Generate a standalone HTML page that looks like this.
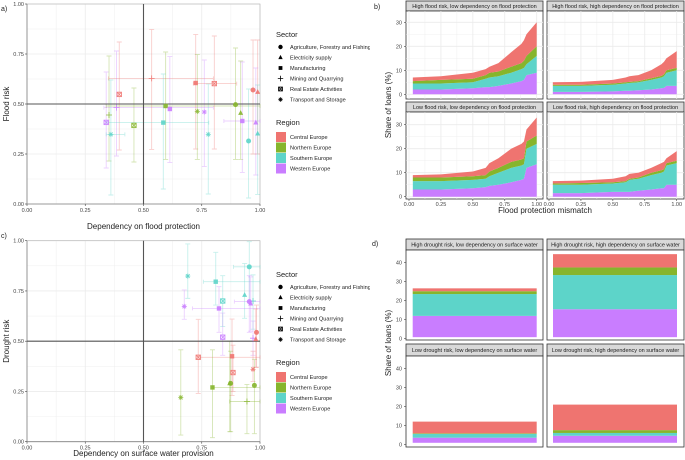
<!DOCTYPE html>
<html><head><meta charset="utf-8"><style>
html,body{margin:0;padding:0;background:#fff;}
svg{display:block;font-family:"Liberation Sans",sans-serif;}
</style></head><body>
<svg id="fig" width="685" height="460" viewBox="0 0 685 460">
<defs><clipPath id="legclip"><rect x="260" y="0" width="110" height="460"/></clipPath></defs>
</svg>
<script>
// ---------- DATA ----------
const regions = ["Central Europe","Northern Europe","Southern Europe","Western Europe"];
const regionColors = ["#EF7470","#86B52C","#5DD4C9","#C97DFF"];
const sectors = ["Agriculture, Forestry and Fishing","Electricity supply","Manufacturing","Mining and Quarrying","Real Estate Activities","Transport and Storage"];
const sectorShapes = ["circle","triangle","square","plus","crossbox","asterisk"];

// panel a: [regionIdx, shapeIdx, x, y, ylo, yhi, xlo, xhi]
const floodPoints = [
 [0,4,0.396,0.548,0.27,0.81,null,null],
 [3,3,0.384,0.482,0.24,0.765,0.33,0.80],
 [1,3,0.352,0.445,0.215,0.74,null,null],
 [3,4,0.34,0.408,0.18,0.66,null,null],
 [2,5,0.36,0.348,0.045,0.62,0.34,0.42],
 [1,4,0.459,0.393,0.21,0.58,null,null],
 [0,3,0.535,0.628,0.273,0.873,0.35,0.80],
 [1,2,0.595,0.49,0.223,0.76,0.34,1.0],
 [2,2,0.585,0.407,0.075,0.65,0.34,0.78],
 [3,2,0.613,0.475,0.207,0.737,null,null],
 [0,2,0.724,0.605,0.275,0.848,null,null],
 [1,5,0.731,0.463,0.223,0.748,null,null],
 [3,5,0.761,0.46,0.187,0.72,null,null],
 [2,5,0.778,0.348,0.05,0.60,null,null],
 [0,4,0.804,0.602,0.275,0.84,0.714,0.90],
 [1,0,0.895,0.497,0.223,0.78,null,null],
 [1,1,0.917,0.455,0.223,0.715,null,null],
 [3,2,0.924,0.415,0.158,0.71,0.845,1.0],
 [2,0,0.951,0.315,0.03,0.575,null,null],
 [0,0,0.97,0.57,0.25,0.82,null,null],
 [0,1,0.99,0.56,0.25,0.82,null,null],
 [3,1,0.982,0.407,0.145,0.68,null,null],
 [2,1,0.99,0.352,0.048,0.595,null,null]
];
// panel c
const droughtPoints = [
 [2,5,0.69,0.824,0.713,0.984,null,null],
 [2,2,0.81,0.796,0.68,0.942,0.757,1.0],
 [2,4,0.84,0.70,0.573,0.826,null,null],
 [2,1,0.934,0.73,0.614,0.887,null,null],
 [2,0,0.954,0.87,0.697,0.995,0.886,1.0],
 [2,3,0.97,0.70,0.56,0.83,null,null],
 [3,5,0.675,0.673,0.609,0.755,null,null],
 [3,2,0.824,0.663,0.544,0.771,0.71,1.0],
 [3,0,0.954,0.697,0.544,0.826,0.89,1.0],
 [3,1,0.96,0.687,0.55,0.82,null,null],
 [3,4,0.84,0.52,0.43,0.64,null,null],
 [3,3,0.97,0.515,0.43,0.6,null,null],
 [0,0,0.985,0.544,0.37,0.68,null,null],
 [0,1,0.982,0.51,0.37,0.66,null,null],
 [0,4,0.735,0.42,0.24,0.609,0.735,1.0],
 [0,2,0.88,0.425,0.23,0.61,null,null],
 [0,4,0.884,0.344,0.25,0.48,null,null],
 [0,5,0.97,0.36,0.3,0.45,null,null],
 [1,5,0.66,0.22,0.033,0.457,null,null],
 [1,2,0.796,0.27,0.02,0.457,0.80,1.0],
 [1,1,0.87,0.29,0.05,0.5,null,null],
 [1,0,0.874,0.29,0.05,0.45,null,null],
 [1,0,0.976,0.28,0.04,0.41,null,null],
 [1,3,0.944,0.20,0.04,0.285,0.87,1.0]
];

// panel b: flood protection mismatch areas (layer thickness per region)
const mismatchX = [0.03,0.25,0.5,0.6,0.63,0.7,0.8,0.88,0.9,0.92,1.0];
const bTitles = ["High flood risk, low dependency on flood protection","High flood risk, high dependency on flood protection","Low flood risk, low dependency on flood protection","Low flood risk, high dependency on flood protection"];
const bWestern = [[2,2,2.5,3,3,3.5,4.5,5.5,6,8,9],[1,1,1.2,1.5,1.5,1.7,2,2.5,2.7,3.5,3.5],[3,3,3.5,4,4.5,5,6,7,7.5,12,13.5],[1.5,1.5,2,2,2,2.5,3,3.5,3.5,5,5]];
const bSouthern = [[2.5,2.5,2.5,3.5,4,4,4.5,5,5,4.5,7],[2.5,2.5,2.8,3,3.2,3.3,4,4.5,4.8,5.5,6.5],[3.5,3.5,3.5,3.5,4,5,6,6,6,8,8.5],[3.5,3.5,3.5,4,5,5,6,6.5,7,8,9]];
const bNorthern = [[1,1.5,1.5,1.5,2,2,2.5,2.5,3,3.5,4],[0.5,0.5,0.5,0.5,0.5,0.5,0.7,0.7,0.8,1,1],[1.5,1.5,1.5,1.5,2,2,2.5,2.5,2.5,3,3.5],[0.5,0.7,0.5,0.5,0.5,0.5,1,1,1,1,1]];
const bCentral = [[1.5,1.5,2.5,2.5,2.5,3.5,6,8,8.5,9,10],[1,1.2,1.5,2,2.3,2.5,3.3,4.8,5.2,5,7],[1,1.3,2,3,3.5,4,5.5,6.5,7,5,7.5],[1,1,1.5,2,2,2,2,3,3,2,4]];
const bYTicks = [0,10,20,30];
const bXTicks = [0,0.25,0.5,0.75,1.0];
const bXTickLabels = ["0.00","0.25","0.50","0.75","1.00"];

// panel d: surface water (layer thickness, western/southern/northern/central)
const dTitles = ["High drought risk, low dependency on surface water","High drought risk, high dependency on surface water","Low drought risk, low dependency on surface water","Low drought risk, high dependency on surface water"];
const dWestern = [11.2,14.7,2.7,3.7];
const dSouthern = [11.5,18,2,1.5];
const dNorthern = [1.5,4,0.3,1.5];
const dCentral = [1.5,7,6.2,13.5];
const dBase = 0.8;
const dYTicks = [0,10,20,30,40];

const scatterTicks = [0,0.25,0.5,0.75,1.0];
const scatterTickLabels = ["0.00","0.25","0.50","0.75","1.00"];

// ---------- HELPERS ----------
const NS="http://www.w3.org/2000/svg";
const svg=document.getElementById('fig');
function mk(tag,attrs,parent){const e=document.createElementNS(NS,tag);for(const k in attrs)e.setAttribute(k,attrs[k]);(parent||svg).appendChild(e);return e;}
function txt(x,y,s,size,anchor,parent,extra){const e=mk('text',Object.assign({x:x,y:y,'font-size':size,'text-anchor':anchor||'start',fill:'#222'},extra||{}),parent);e.textContent=s;return e;}

function drawShape(g,shape,cx,cy,col,r){
  r=r||2.6;
  if(shape==='circle'){mk('circle',{cx:cx,cy:cy,r:r,fill:col},g);}
  else if(shape==='triangle'){mk('polygon',{points:`${cx},${cy-r-0.4} ${cx-r},${cy+r-0.6} ${cx+r},${cy+r-0.6}`,fill:col},g);}
  else if(shape==='square'){mk('rect',{x:cx-r+0.3,y:cy-r+0.3,width:2*r-0.6,height:2*r-0.6,fill:col},g);}
  else if(shape==='plus'){mk('path',{d:`M${cx-r-0.5},${cy}H${cx+r+0.5}M${cx},${cy-r-0.5}V${cy+r+0.5}`,stroke:col,'stroke-width':0.8,fill:'none'},g);}
  else if(shape==='crossbox'){mk('rect',{x:cx-r+0.3,y:cy-r+0.3,width:2*r-0.6,height:2*r-0.6,stroke:col,'stroke-width':0.9,fill:'none'},g);
    mk('path',{d:`M${cx-r+0.3},${cy-r+0.3}L${cx+r-0.3},${cy+r-0.3}M${cx+r-0.3},${cy-r+0.3}L${cx-r+0.3},${cy+r-0.3}`,stroke:col,'stroke-width':0.8},g);}
  else if(shape==='asterisk'){const d=r*0.75;mk('path',{d:`M${cx-r},${cy}H${cx+r}M${cx},${cy-r}V${cy+r}M${cx-d},${cy-d}L${cx+d},${cy+d}M${cx+d},${cy-d}L${cx-d},${cy+d}`,stroke:col,'stroke-width':0.8},g);}
}

function scatterPanel(cfg){
  const g=mk('g',{});
  
  
  const sx=v=>cfg.x0+v*(cfg.x1-cfg.x0), sy=v=>cfg.y0+v*(cfg.y1-cfg.y0);
  for(let i=0;i<=8;i++){const v=i/8;const major=i%2===0;
    mk('line',{x1:sx(v),x2:sx(v),y1:sy(0),y2:sy(1),stroke:'#ebebeb','stroke-width':major?0.8:0.4},g);
    mk('line',{x1:sx(0),x2:sx(1),y1:sy(v),y2:sy(v),stroke:'#ebebeb','stroke-width':major?0.8:0.4},g);}
  mk('rect',{x:sx(0),y:sy(1),width:sx(1)-sx(0),height:sy(0)-sy(1),fill:'none',stroke:'#bbb','stroke-width':0.7},g);
  mk('line',{x1:sx(0),x2:sx(0),y1:sy(0),y2:sy(1),stroke:'#888','stroke-width':0.8},g);
  mk('line',{x1:sx(0),x2:sx(1),y1:sy(0),y2:sy(0),stroke:'#888','stroke-width':0.8},g);
  scatterTicks.forEach((v,i)=>{
    const t=txt(sx(v),sy(0)+8,scatterTickLabels[i],5.5,'middle',g,{fill:'#444'});
    
    
    const t2=txt(sx(0)-3,sy(v)+2,scatterTickLabels[i],5.5,'end',g,{fill:'#444'});
    
    
    mk('line',{x1:sx(v),x2:sx(v),y1:sy(0),y2:sy(0)+2,stroke:'#444','stroke-width':0.6},g);
    mk('line',{x1:sx(0)-2,x2:sx(0),y1:sy(v),y2:sy(v),stroke:'#444','stroke-width':0.6},g);
  });
  cfg.pts.forEach(p=>{
    const col=regionColors[p[0]];
    const eb=mk('g',{opacity:0.35},g);
    
    
    const x=sx(p[2]),y=sy(p[3]);
    mk('path',{d:`M${x},${sy(p[4])}V${sy(p[5])}M${x-2.5},${sy(p[4])}H${x+2.5}M${x-2.5},${sy(p[5])}H${x+2.5}`,stroke:col,'stroke-width':0.9,fill:'none'},eb);
    if(p[6]!==null){mk('path',{d:`M${sx(p[6])},${y}H${sx(p[7])}M${sx(p[6])},${y-2}V${y+2}M${sx(p[7])},${y-2}V${y+2}`,stroke:col,'stroke-width':0.9,fill:'none'},eb);}
  });
  mk('line',{x1:sx(0.5),x2:sx(0.5),y1:sy(0),y2:sy(1),stroke:'#555','stroke-width':1.1},g);
  mk('line',{x1:sx(0),x2:sx(1),y1:sy(0.5),y2:sy(0.5),stroke:'#555','stroke-width':1.1},g);
  cfg.pts.forEach(p=>{
    const pg=mk('g',{opacity:0.9},g);
    
    
    drawShape(pg,sectorShapes[p[1]],sx(p[2]),sy(p[3]),regionColors[p[0]],2.5);
  });
  const xt=txt((sx(0)+sx(1))/2,cfg.xtY,cfg.xTitle,8,'middle',g);
  
  
  const yc=(sy(0)+sy(1))/2;
  const yt=txt(9,yc,cfg.yTitle,8,'middle',g,{transform:`rotate(-90 9 ${yc})`});
  
  
}

function legend(y0){
  const g=mk('g',{'clip-path':'url(#legclip)'});
  
  
  const t=txt(276,y0,'Sector',7.5,'start',g);
  
  
  sectors.forEach((s,i)=>{
    const yy=y0+12+i*10.5;
    const eg=mk('g',{},g);
    
    
    drawShape(eg,sectorShapes[i],280.5,yy-2,'#000',2.2);
    txt(290,yy,s,5.6,'start',eg);
  });
  const t2=txt(276,y0+88,'Region',7.5,'start',g);
  
  
  regions.forEach((r,i)=>{
    const yy=y0+95+i*10.5;
    const eg=mk('g',{},g);
    
    
    mk('rect',{x:276,y:yy,width:10,height:10,fill:regionColors[i]},eg);
    txt(290,yy+7,r,5.6,'start',eg);
  });
}

function facetFrame(g,x0,x1,stripY,py0,py1,title){
  mk('rect',{x:x0,y:stripY,width:x1-x0,height:py0-stripY,fill:'#d9d9d9',stroke:'#333','stroke-width':0.8},g);
  const t=txt((x0+x1)/2,stripY+(py0-stripY)/2+2,title,5.5,'middle',g,{fill:'#1a1a1a'});
  
  
  mk('rect',{x:x0,y:py0,width:x1-x0,height:py1-py0,fill:'#fff',stroke:'#333','stroke-width':0.8},g);
}

[['a)',1,11],['b)',374,9],['c)',1,238],['d)',372,246]].forEach(l=>{
  const t=txt(l[1],l[2],l[0],7,'start');
  
  
});

scatterPanel({name:'panel-a-flood-scatter',x0:27,x1:260,y0:204,y1:4,pts:floodPoints,xTitle:'Dependency on flood protection',yTitle:'Flood risk',xtY:229});
scatterPanel({name:'panel-c-drought-scatter',x0:27,x1:260,y0:441.7,y1:240.7,pts:droughtPoints,xTitle:'Dependency on surface water provision',yTitle:'Drought risk',xtY:456});
legend(37);
legend(277);

// ---------- PANEL B ----------
(function(){
  const g=mk('g',{});
  
  
  const facets=[{x0:406,x1:543,strip:1,py0:11,py1:99,zero:94.3,ox:409},{x0:547,x1:684,strip:1,py0:11,py1:99,zero:94.3,ox:549},
                {x0:406,x1:543,strip:102,py0:112,py1:199,zero:196.7,ox:409},{x0:547,x1:684,strip:102,py0:112,py1:199,zero:196.7,ox:549}];
  const layers=[bWestern,bSouthern,bNorthern,bCentral];
  const layerCols=[regionColors[3],regionColors[2],regionColors[1],regionColors[0]];
  facets.forEach((f,fi)=>{
    const fg=mk('g',{},g);
    
    
    facetFrame(fg,f.x0,f.x1,f.strip,f.py0,f.py1,bTitles[fi]);
    const sx=v=>f.ox+v*127.7, sy=v=>f.zero-v*2.4;
    for(let v=0;v<=1.0001;v+=0.125){mk('line',{x1:sx(v),x2:sx(v),y1:f.py0,y2:f.py1,stroke:'#ebebeb','stroke-width':Math.round(v*8)%2?0.4:0.8},fg);}
    for(let v=0;v<=35;v+=5){if(sy(v)>f.py0)mk('line',{x1:f.x0,x2:f.x1,y1:sy(v),y2:sy(v),stroke:'#ebebeb','stroke-width':v%10?0.4:0.8},fg);}
    let base=mismatchX.map(()=>0);
    layers.forEach((L,li)=>{
      const vals=L[fi];
      const top=base.map((b,i)=>b+vals[i]);
      let d='M'+mismatchX.map((x,i)=>sx(x)+','+sy(top[i])).join('L');
      for(let i=mismatchX.length-1;i>=0;i--)d+='L'+sx(mismatchX[i])+','+sy(base[i]);
      const a=mk('path',{d:d+'Z',fill:layerCols[li]},fg);
      
      
      base=top;
    });
    if(fi%2===0){bYTicks.forEach(v=>{txt(f.x0-4,sy(v)+2,String(v),5.5,'end',fg,{fill:'#444'});mk('line',{x1:f.x0-2,x2:f.x0,y1:sy(v),y2:sy(v),stroke:'#444','stroke-width':0.6},fg);});}
    if(fi>=2){bXTicks.forEach((v,i)=>{txt(sx(v),f.py1+7,bXTickLabels[i],5.5,'middle',fg,{fill:'#444'});mk('line',{x1:sx(v),x2:sx(v),y1:f.py1,y2:f.py1+2,stroke:'#444','stroke-width':0.6},fg);});}
  });
  const xt=txt(545,213,'Flood protection mismatch',8,'middle',g);
  
  
  const yt=txt(391,105,'Share of loans (%)',8,'middle',g,{transform:'rotate(-90 391 105)'});
  
  
})();

// ---------- PANEL D ----------
(function(){
  const g=mk('g',{});
  
  
  const facets=[{x0:406,x1:543,strip:239,py0:250,py1:340,zero:338.7,s:1.9,bx0:412.7,bx1:536.7},{x0:547,x1:684,strip:239,py0:250,py1:340,zero:338.7,s:1.9,bx0:553,bx1:677},
                {x0:406,x1:543,strip:344,py0:356,py1:447,zero:444.3,s:1.89,bx0:412.7,bx1:536.7},{x0:547,x1:684,strip:344,py0:356,py1:447,zero:444.3,s:1.89,bx0:553,bx1:677}];
  const layers=[dWestern,dSouthern,dNorthern,dCentral];
  const layerCols=[regionColors[3],regionColors[2],regionColors[1],regionColors[0]];
  facets.forEach((f,fi)=>{
    const fg=mk('g',{},g);
    
    
    facetFrame(fg,f.x0,f.x1,f.strip,f.py0,f.py1,dTitles[fi]);
    const sy=v=>f.zero-v*f.s;
    let base=dBase;
    layers.forEach((L,li)=>{
      const top=base+L[fi];
      const r=mk('rect',{x:f.bx0,y:sy(top),width:f.bx1-f.bx0,height:sy(base)-sy(top),fill:layerCols[li]},fg);
      
      
      base=top;
    });
    if(fi%2===0){dYTicks.forEach(v=>{txt(f.x0-4,sy(v)+2,String(v),5.5,'end',fg,{fill:'#444'});mk('line',{x1:f.x0-2,x2:f.x0,y1:sy(v),y2:sy(v),stroke:'#444','stroke-width':0.6},fg);});}
  });
  const yt=txt(391,343,'Share of loans (%)',8,'middle',g,{transform:'rotate(-90 391 343)'});
  
  
})();
</script>
</body></html>
